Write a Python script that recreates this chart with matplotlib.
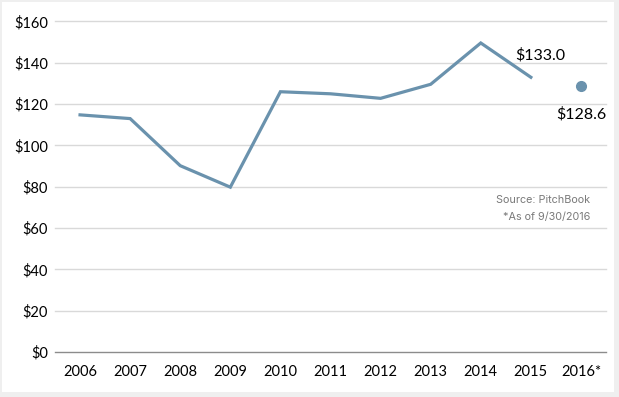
import matplotlib
matplotlib.use("Agg")
import matplotlib.pyplot as plt
from matplotlib.patches import Rectangle

# data
years = ['2006', '2007', '2008', '2009', '2010', '2011', '2012', '2013', '2014', '2015']
values = [114.8, 113.0, 90.2, 79.8, 126.0, 125.0, 122.8, 129.6, 149.6, 133.0]
ytd_label = '2016*'
ytd_value = 128.6
y_ticks = [0, 20, 40, 60, 80, 100, 120, 140, 160]

line_color = '#6a92ad'
font = 'Lato'

fig = plt.figure(figsize=(6.19, 3.97), dpi=100, facecolor='#efefef')
# white card inside the light grey frame
fig.patches.append(Rectangle((2 / 619, 5 / 397), 612 / 619, 390 / 397,
                             transform=fig.transFigure, facecolor='white',
                             edgecolor='none', zorder=-10))

ax = fig.add_axes([55 / 619, 1 - 352 / 397, 551 / 619, 330.5 / 397])
ax.set_facecolor('none')

all_labels = years + [ytd_label]
x = list(range(len(years)))
ax.plot(x, values, color=line_color, lw=2.3, solid_joinstyle='miter', zorder=3)
ax.plot([len(years)], [ytd_value], 'o', color=line_color, ms=7, zorder=3)

ax.annotate(f'${values[-1]:.1f}', (x[-1], values[-1]), xytext=(9, 22),
            textcoords='offset pixels', ha='center', va='center',
            fontsize=11.5, family=font, color='black')
ax.annotate(f'${ytd_value:.1f}', (len(years), ytd_value), xytext=(0, -28),
            textcoords='offset pixels', ha='center', va='center',
            fontsize=11.5, family=font, color='black')

ax.set_xlim(-0.5, len(all_labels) - 0.5)
ax.set_ylim(0, 160)
ax.set_xticks(range(len(all_labels)))
ax.set_xticklabels(all_labels, family=font, fontsize=10.5)
ax.set_yticks(y_ticks)
ax.set_yticklabels([f'${v}' for v in y_ticks], family=font, fontsize=10.5)
ax.tick_params(length=0, pad=5)
ax.tick_params(axis='x', pad=9)

for v in y_ticks[1:]:
    ax.axhline(v, color='#d9d9d9', lw=1, zorder=1, clip_on=False)
for side in ['top', 'left', 'right']:
    ax.spines[side].set_visible(False)
ax.spines['bottom'].set_color('#8c8c8c')
ax.spines['bottom'].set_linewidth(1)

fig.text(590 / 619, 1 - 200 / 397, 'Source: PitchBook', ha='right', va='center',
         family='Inter', fontsize=7.8, color='#7a7a7a')
fig.text(590 / 619, 1 - 217 / 397, '*As of 9/30/2016', ha='right', va='center',
         family='Inter', fontsize=7.8, color='#7a7a7a')

fig.savefig('out.png', dpi=100, facecolor=fig.get_facecolor())
